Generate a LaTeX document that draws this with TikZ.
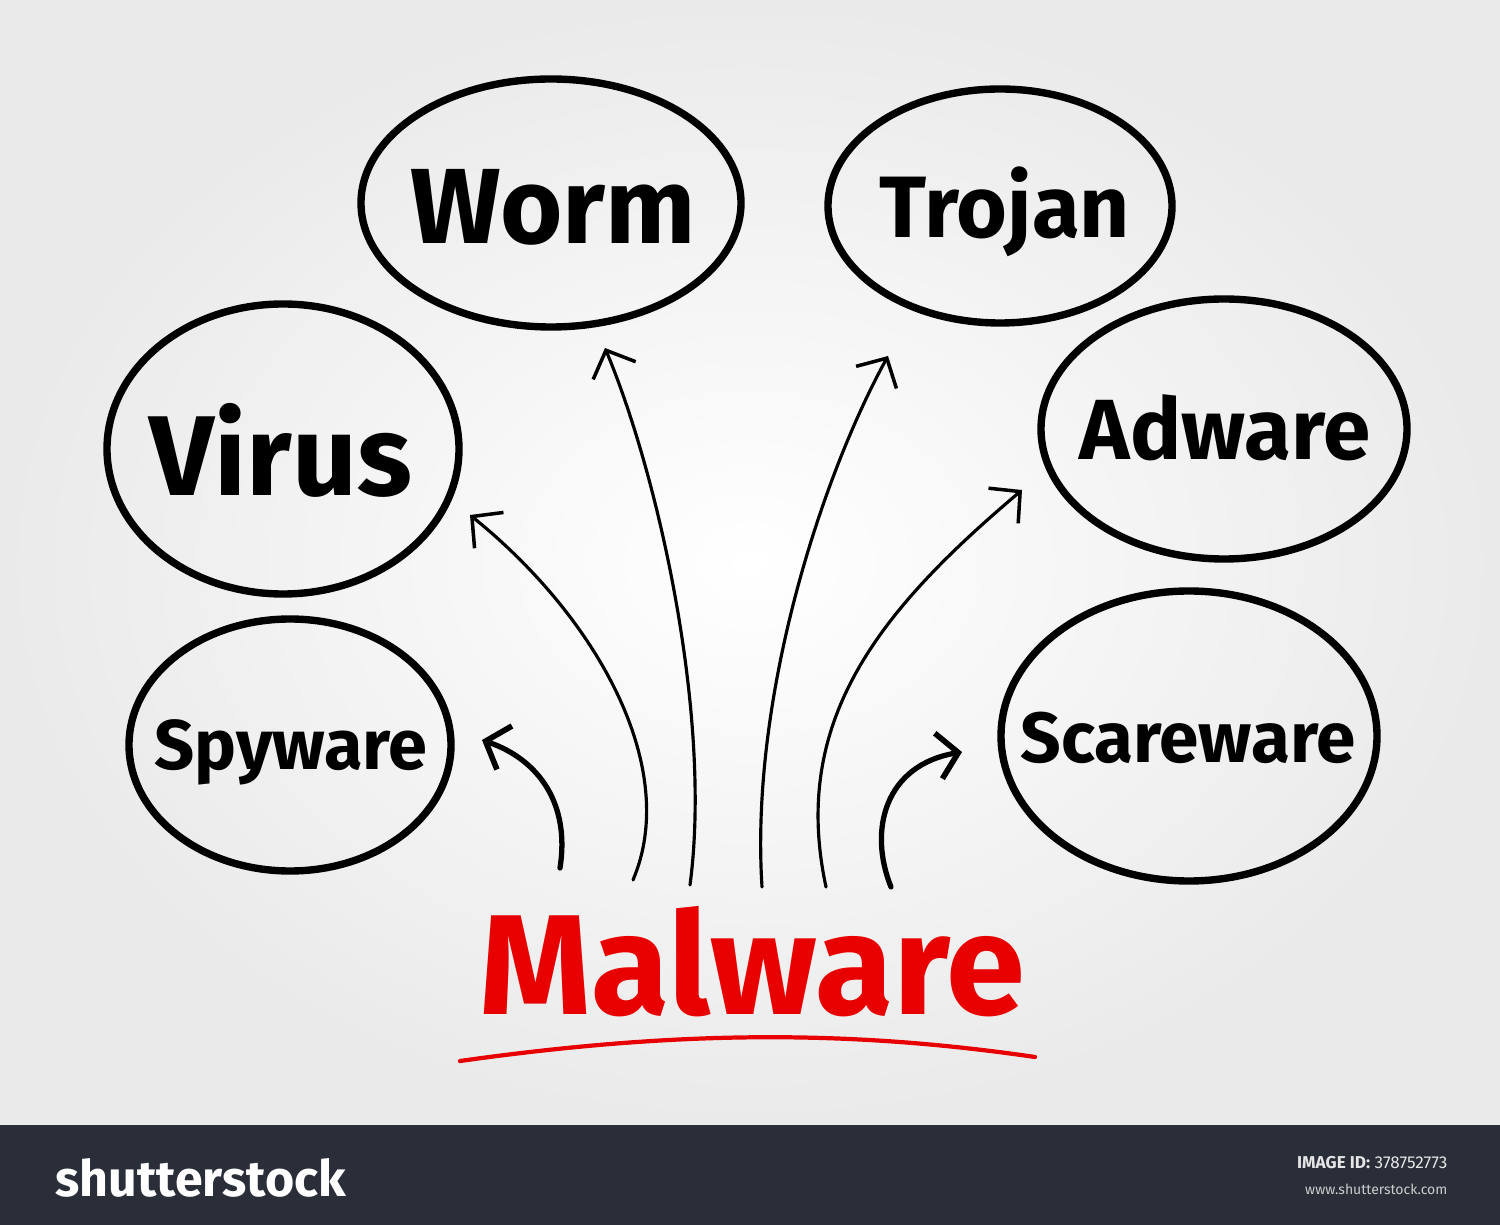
\documentclass[tikz,border=0pt]{standalone}
\usepackage{fontspec}
\usepackage{graphicx}
\setmainfont{Fira Sans}
\usetikzlibrary{arrows.meta,shapes.geometric}
\definecolor{barbg}{RGB}{41,46,57}
\definecolor{malred}{RGB}{232,0,0}
\definecolor{bgedge}{RGB}{234,234,234}
\tikzset{
  bubble/.style={draw=black, line width=2.1pt},
  lbl/.style={inner sep=0pt, text=black, font=\bfseries},
  thinarrow/.style={draw=black, line width=0.9pt, line cap=round,
     -{Straight Barb[length=2.2mm,width=4.6mm,line width=1pt]}},
  thickarrow/.style={draw=black, line width=1.5pt, line cap=round,
     -{Straight Barb[length=2.0mm,width=4.6mm,line width=1.6pt]}},
}
\begin{document}
\begin{tikzpicture}[x=0.01cm,y=-0.01cm]
\useasboundingbox (0,0) rectangle (1500,1225);
% background
\shade[inner color=white, outer color=bgedge] (0,0) rectangle (1500,1125);
\fill[barbg] (0,1125) rectangle (1500,1225);

% ellipses
\draw[bubble] (551,203) ellipse [x radius=190, y radius=124];
\draw[bubble] (1000,206) ellipse [x radius=172, y radius=117];
\draw[bubble] (283,449) ellipse [x radius=176, y radius=145];
\draw[bubble] (1224,429) ellipse [x radius=183, y radius=130];
\draw[bubble] (290,745) ellipse [x radius=161, y radius=126];
\draw[bubble] (1189,736) ellipse [x radius=188, y radius=145];

% labels
\node[lbl] (worm) at (553,207) {\resizebox{2.85cm}{!}{Worm}};
\node[lbl] (trojan) at (1005,212) {\resizebox{2.5cm}{!}{Trojan}};
\node[lbl] (virus) at (281,450) {\resizebox{2.62cm}{!}{Virus}};
\node[lbl] (adware) at (1225,428) {\resizebox{2.9cm}{!}{Adware}};
\node[lbl] (spyware) at (291,752) {\resizebox{2.73cm}{!}{Spyware}};
\node[lbl] (scareware) at (1188,738) {\resizebox{3.35cm}{!}{Scareware}};

% Malware
\node[lbl, text=malred] (malware) at (752,962) {\resizebox{5.45cm}{!}{Malware}};
\coordinate (ulL) at (460,1061);
\coordinate (ulR) at (1035,1057);
\draw[malred, line width=1.2pt, line cap=round] (ulL) .. controls (680,1030) and (850,1030) .. (ulR);

% arrow ends
\coordinate (s1) at (560,868); \coordinate (e1) at (482,740);
\coordinate (s2) at (633,880); \coordinate (e2) at (470,515);
\coordinate (s3) at (690,885); \coordinate (e3) at (605,348);
\coordinate (s4) at (762,887); \coordinate (e4) at (888,356);
\coordinate (s5) at (826,887); \coordinate (e5) at (1022,490);
\coordinate (s6) at (891,887); \coordinate (e6) at (962,752);

\draw[thickarrow] (s1) .. controls (570,805) and (540,760) .. (e1);
\draw[thinarrow] (s2) .. controls (680,770) and (600,620) .. (e2);
\draw[thinarrow] (s3) .. controls (712,720) and (660,480) .. (e3);
\draw[thinarrow] (s4) .. controls (750,700) and (820,480) .. (e4);
\draw[thinarrow] (s5) .. controls (790,720) and (880,610) .. (e5);
\draw[thickarrow] (s6) .. controls (868,830) and (885,765) .. (e6);

% bottom bar texts
\node[inner sep=0pt, text=white, font=\bfseries, anchor=west] (brand) at (55,1178) {\resizebox{2.9cm}{!}{shutterstock}};
\node[inner sep=0pt, text=white!90!black, anchor=east] (imgid) at (1448,1163) {\resizebox{1.5cm}{!}{\textbf{IMAGE ID:} 378752773}};
\node[inner sep=0pt, text=white!80!black, anchor=east] (url) at (1448,1189) {\resizebox{1.42cm}{!}{www.shutterstock.com}};
\end{tikzpicture}
\end{document}
